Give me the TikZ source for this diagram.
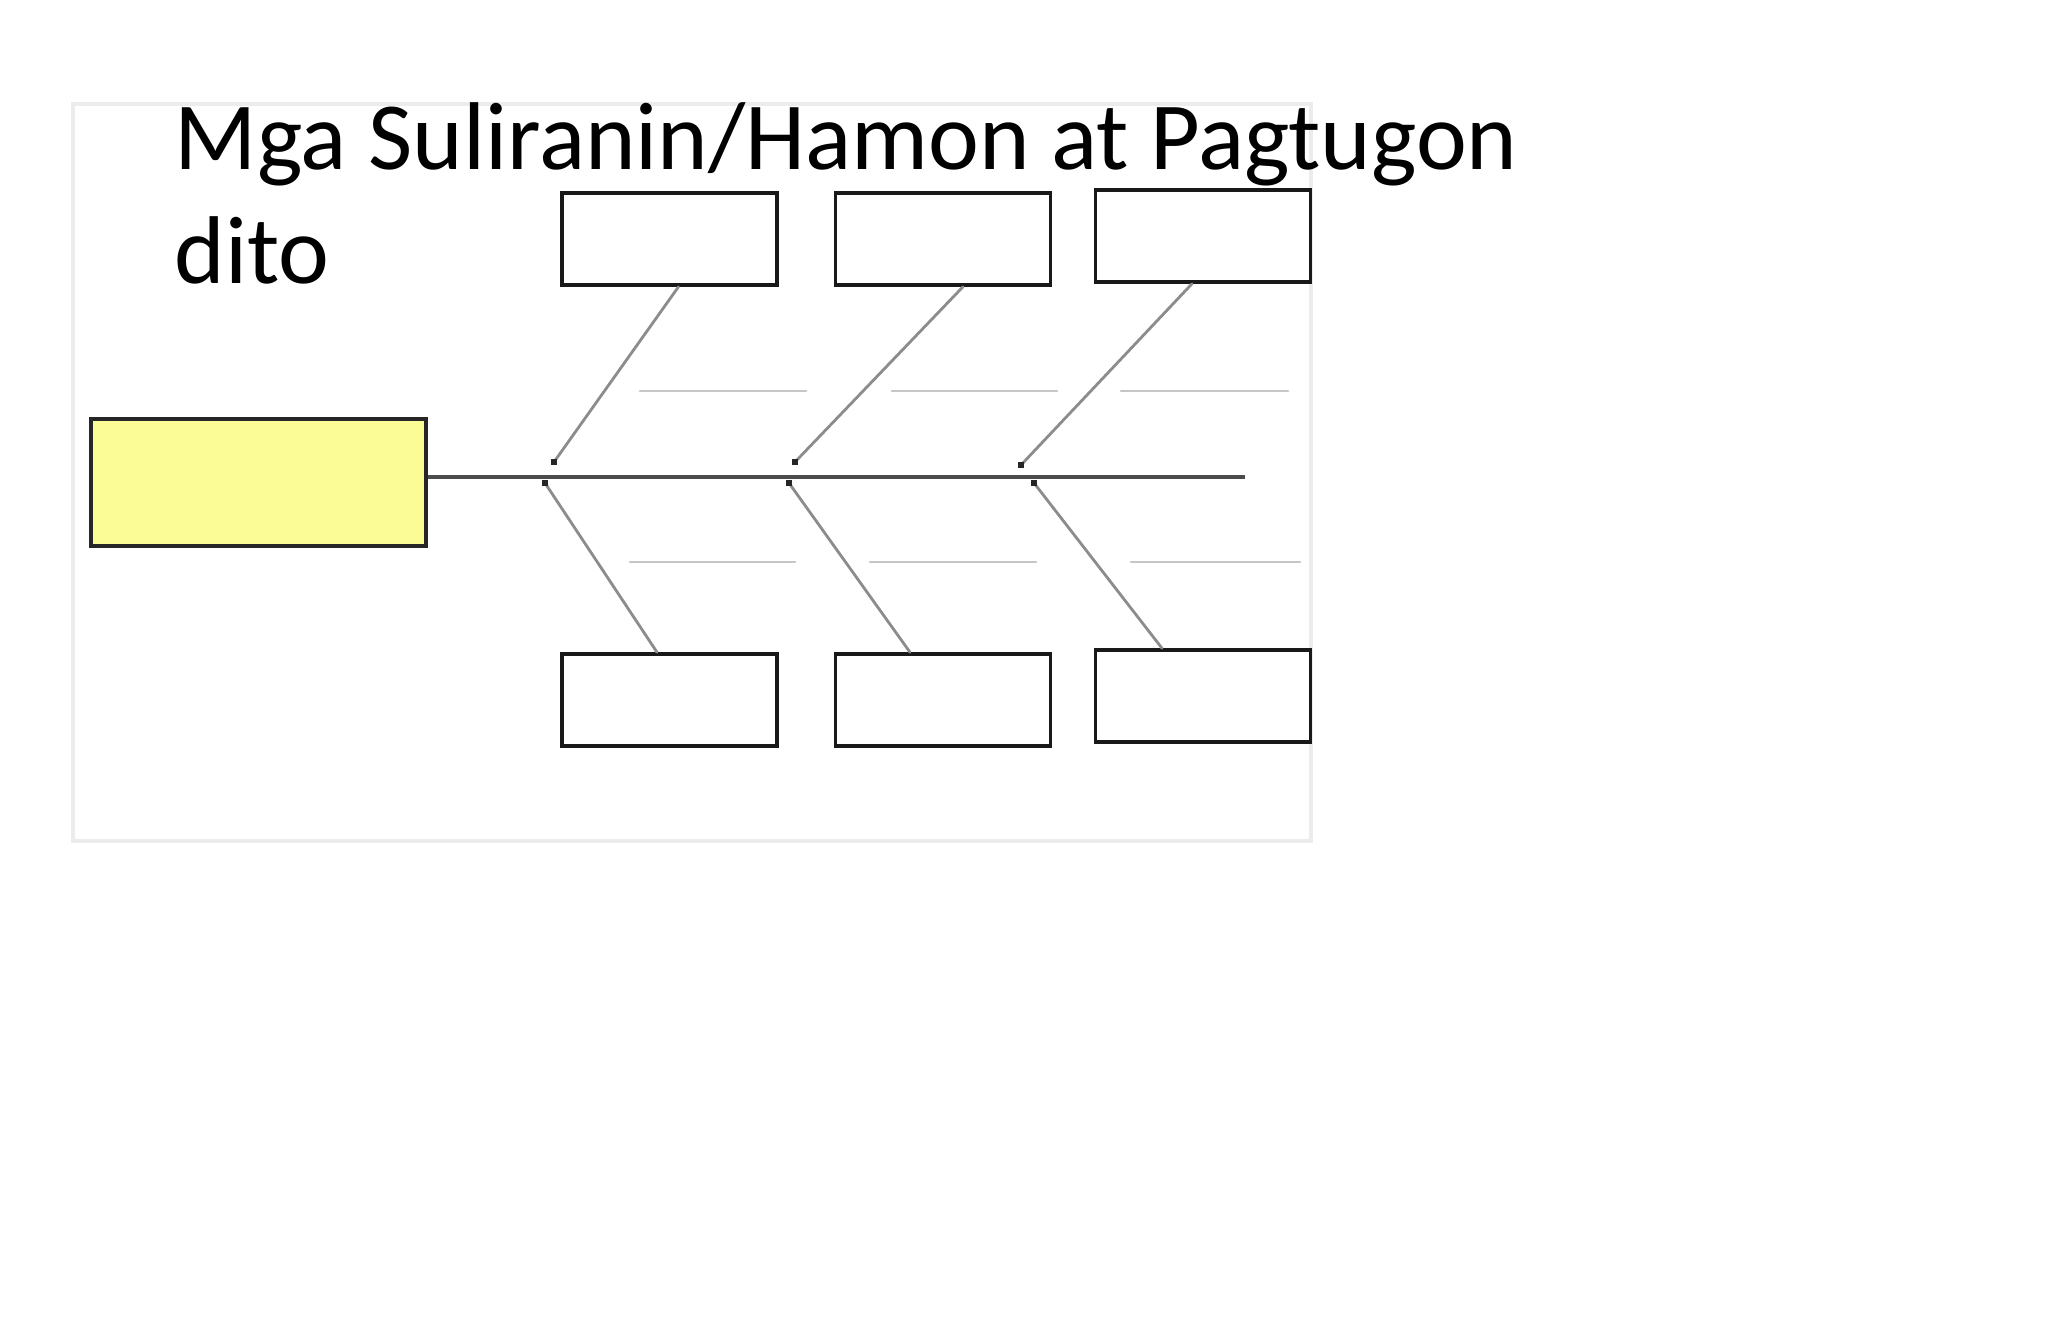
\documentclass[tikz,border=0pt]{standalone}
\usepackage{fontspec}
\setmainfont{Carlito}
\usepackage{tkz-euclide}
\usetikzlibrary{calc}

\definecolor{headfill}{RGB}{252,252,150}
\definecolor{framegray}{RGB}{236,236,236}
\definecolor{bonegray}{RGB}{140,140,140}
\definecolor{rulegray}{RGB}{198,198,198}

\tikzset{
  causebox/.style={draw=black!90, line width=1pt, minimum width=2.15cm, minimum height=0.92cm, inner sep=0pt},
  headbox/.style={draw=black!85, fill=headfill, line width=1pt, minimum width=3.35cm, minimum height=1.27cm, inner sep=0pt},
  bone/.style={bonegray, line width=0.8pt},
  blank/.style={rulegray, line width=0.8pt}
}

\begin{document}
\begin{tikzpicture}
        \useasboundingbox (0,0) rectangle (20.48,-13.39);
        \draw[framegray, line width=0.9pt] (0.73,-1.04) rectangle (13.11,-8.41);
        % head and cause boxes
        \node[headbox] (head) at (2.585,-4.825) {};
        \node[causebox] (t1) at (6.695,-2.39) {};
        \node[causebox] (t2) at (9.43,-2.39) {};
        \node[causebox] (t3) at (12.03,-2.36) {};
        \node[causebox] (b1) at (6.695,-7.00) {};
        \node[causebox] (b2) at (9.43,-7.00) {};
        \node[causebox] (b3) at (12.03,-6.96) {};
        \node[anchor=base west, align=left, inner sep=0pt,
              font=\fontsize{27.4}{32.4}\selectfont] (title) at (1.74,-2.835)
              {Mga Suliranin/Hamon at Pagtugon\\dito};
        % spine
        \coordinate (tail) at (12.45,-4.77);
        \draw[black!70, line width=1pt] (head.east |- tail) -- (tail);
        % bones
        \tkzDefPoints{5.54/-4.62/A,7.95/-4.62/B,10.21/-4.65/C,5.45/-4.83/D,7.89/-4.83/E,10.34/-4.83/F}
        \coordinate (t1b) at ([xshift=0.9mm]t1.south);
        \coordinate (t2b) at ([xshift=2mm]t2.south);
        \coordinate (t3b) at ([xshift=-1.1mm]t3.south);
        \coordinate (b1t) at ([xshift=-1.25mm]b1.north);
        \coordinate (b2t) at ([xshift=-3.3mm]b2.north);
        \coordinate (b3t) at ([xshift=-4.1mm]b3.north);
        \tkzDrawSegments[bone](t1b,A t2b,B t3b,C D,b1t E,b2t F,b3t)
        \foreach \p in {A,B,C,D,E,F}
          \fill[black!85] ($(\p)+(-0.03,-0.03)$) rectangle ++(0.06,0.06);
        % blank lines for writing
        \tkzDefPoints{6.40/-3.91/U1,8.06/-3.91/V1,8.92/-3.91/U2,10.57/-3.91/V2,11.21/-3.91/U3,12.88/-3.91/V3}
        \tkzDefPoints{6.30/-5.62/L1,7.95/-5.62/M1,8.70/-5.62/L2,10.36/-5.62/M2,11.31/-5.62/L3,13.00/-5.62/M3}
        \tkzDrawSegments[blank](U1,V1 U2,V2 U3,V3 L1,M1 L2,M2 L3,M3)
    \end{tikzpicture}
\end{document}
